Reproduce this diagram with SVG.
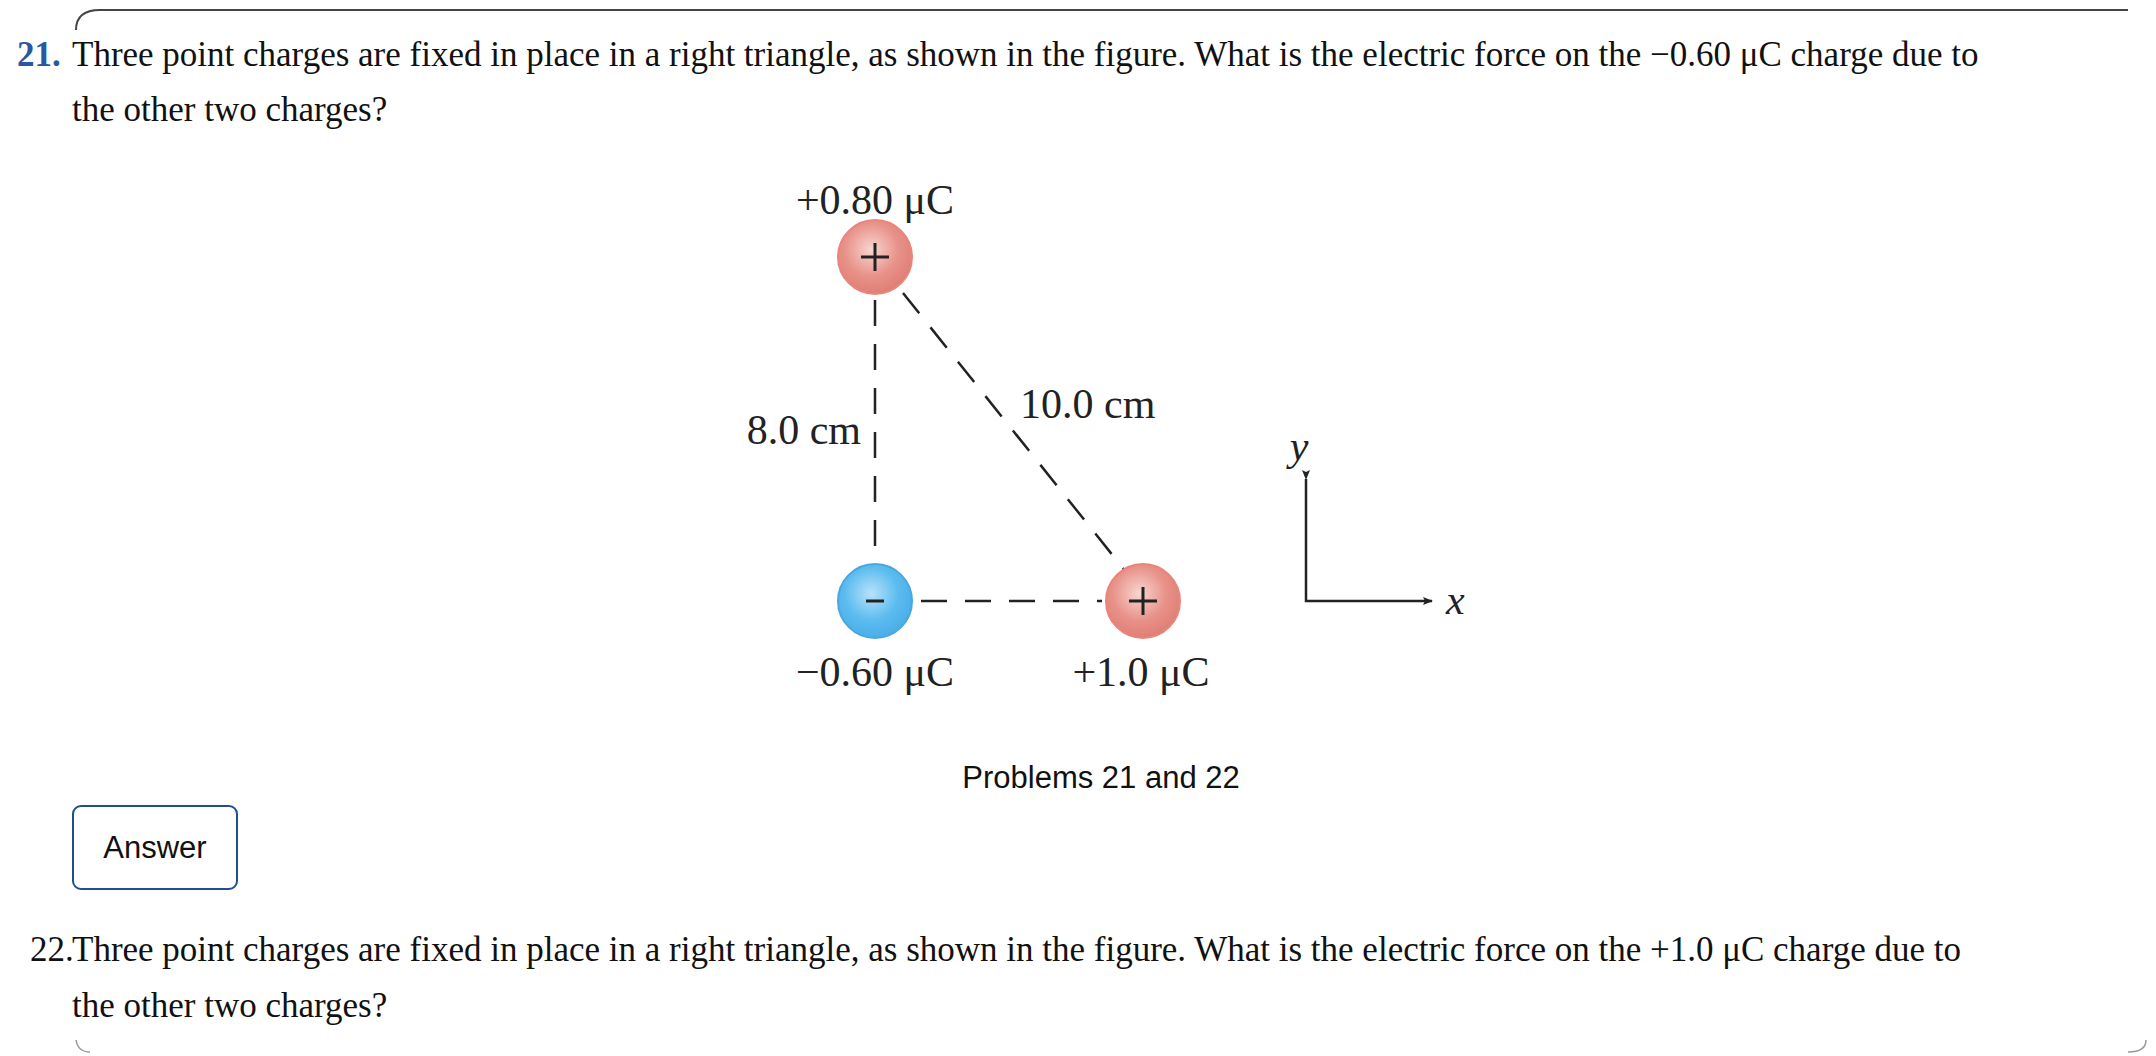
<svg xmlns="http://www.w3.org/2000/svg" width="2156" height="1056" viewBox="0 0 2156 1056">
<style>
.q{font-family:"Liberation Serif",serif;font-size:35px;fill:#111}
.f{font-family:"Liberation Serif",serif;font-size:42px;fill:#222}
.s{font-family:"Liberation Sans",Arial,sans-serif;font-size:31px;fill:#111}
.d{stroke:#222;stroke-width:2.5;stroke-dasharray:26 18;fill:none}
.sym{stroke:#222;stroke-width:3;fill:none}
</style>
<defs>
<radialGradient id="rp" cx="0.45" cy="0.4" r="0.6"><stop offset="0" stop-color="#f8d6d0"/><stop offset="0.6" stop-color="#e8928a"/><stop offset="1" stop-color="#df7f75"/></radialGradient>
<radialGradient id="bn" cx="0.45" cy="0.4" r="0.6"><stop offset="0" stop-color="#b8e2fb"/><stop offset="0.6" stop-color="#5cbcf0"/><stop offset="1" stop-color="#4aaee8"/></radialGradient>
<marker id="ah" markerWidth="10" markerHeight="8" refX="9" refY="4" orient="auto" markerUnits="userSpaceOnUse" viewBox="0 0 10 8"><path d="M0,0 L10,4 L0,8 L2,4 Z" fill="#222"/></marker>
</defs>
<rect width="2156" height="1056" fill="#fff"/>
<path d="M76,30 Q76,10 100,10 L2128,10" stroke="#444" stroke-width="2" fill="none"/>
<path d="M76,1040 Q78,1052 90,1052" stroke="#999" stroke-width="1.5" fill="none"/>
<path d="M2128,1052 Q2146,1052 2146,1040" stroke="#999" stroke-width="1.5" fill="none"/>
<text x="17" y="66" class="q"><tspan fill="#2957a4" font-weight="bold">21.</tspan><tspan x="72">Three point charges are fixed in place in a right triangle, as shown in the figure. What is the electric force on the −0.60 μC charge due to</tspan></text>
<text x="72" y="121" class="q">the other two charges?</text>
<g id="connectors">
<line x1="875" y1="300" x2="875" y2="560" class="d"/>
<line x1="921" y1="601" x2="1102" y2="601" class="d"/>
<line x1="903" y1="293" x2="1126" y2="572" class="d"/>
</g>
<g id="q1">
<circle cx="875" cy="257" r="37" fill="url(#rp)" stroke="#e9857a" stroke-width="2"/>
<path d="M875,243 V271 M861,257 H889" class="sym"/>
<text x="875" y="214" class="f" text-anchor="middle">+0.80 μC</text>
</g>
<g id="q2">
<circle cx="875" cy="601" r="37" fill="url(#bn)" stroke="#4aa8e0" stroke-width="2"/>
<path d="M866,601 H884" class="sym"/>
<text x="875" y="686" class="f" text-anchor="middle">−0.60 μC</text>
</g>
<g id="q3">
<circle cx="1143" cy="601" r="37" fill="url(#rp)" stroke="#e9857a" stroke-width="2"/>
<path d="M1143,587 V615 M1129,601 H1157" class="sym"/>
<text x="1141" y="686" class="f" text-anchor="middle">+1.0 μC</text>
</g>
<text x="861" y="444" class="f" text-anchor="end">8.0 cm</text>
<text x="1020" y="418" class="f">10.0 cm</text>
<g id="axes">
<path d="M1306,479 V601 H1432" stroke="#222" stroke-width="2.5" fill="none" marker-start="url(#ah)" marker-end="url(#ah)"/>
<text x="1299" y="460" class="f" font-style="italic" text-anchor="middle">y</text>
<text x="1446" y="614" class="f" font-style="italic">x</text>
</g>
<text x="1101" y="788" class="s" text-anchor="middle">Problems 21 and 22</text>
<g id="answer">
<rect x="73" y="806" width="164" height="83" rx="8" fill="#fff" stroke="#1d4f91" stroke-width="2"/>
<text x="155" y="858" class="s" text-anchor="middle">Answer</text>
</g>
<text x="30" y="961" class="q">22.<tspan x="72">Three point charges are fixed in place in a right triangle, as shown in the figure. What is the electric force on the +1.0 μC charge due to</tspan></text>
<text x="72" y="1017" class="q">the other two charges?</text>
</svg>
